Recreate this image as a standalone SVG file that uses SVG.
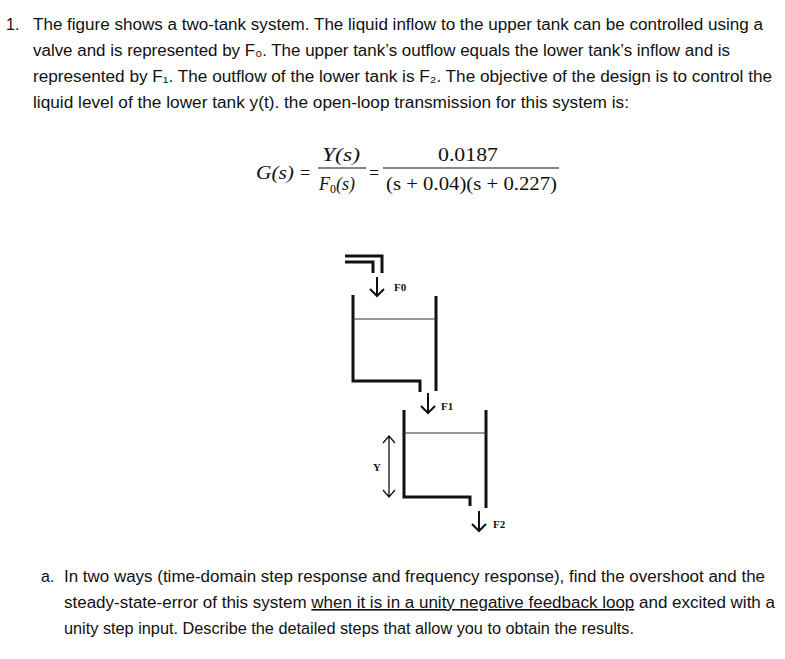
<svg xmlns="http://www.w3.org/2000/svg" width="785" height="659" viewBox="0 0 785 659">
<defs>
<style>
.t{font-family:"Liberation Sans",Arial,sans-serif;font-size:16px;fill:#111}
.m{font-family:"Liberation Serif","Times New Roman",serif;font-size:18px;fill:#111}
.l{font-family:"Liberation Serif","Times New Roman",serif;font-size:11px;font-weight:bold;fill:#111}
.w{fill:none;stroke:#111;stroke-width:3}
.thin{fill:none;stroke:#333;stroke-width:1}
.a{fill:none;stroke:#111;stroke-width:2}
</style>
</defs>
<rect width="785" height="659" fill="#fff"/>
<g id="text">
<text class="t" x="6" y="30">1.</text>
<text class="t" x="33" y="30" textLength="730" lengthAdjust="spacingAndGlyphs">The figure shows a two-tank system. The liquid inflow to the upper tank can be controlled using a</text>
<text class="t" x="33" y="56" textLength="697" lengthAdjust="spacingAndGlyphs">valve and is represented by F₀. The upper tank’s outflow equals the lower tank’s inflow and is</text>
<text class="t" x="33" y="82" textLength="739" lengthAdjust="spacingAndGlyphs">represented by F₁. The outflow of the lower tank is F₂. The objective of the design is to control the</text>
<text class="t" x="33" y="108" textLength="596" lengthAdjust="spacingAndGlyphs">liquid level of the lower tank y(t). the open-loop transmission for this system is:</text>
<text class="t" x="41" y="582">a.</text>
<text class="t" x="64" y="582" textLength="701" lengthAdjust="spacingAndGlyphs">In two ways (time-domain step response and frequency response), find the overshoot and the</text>
<text class="t" x="64" y="608" textLength="711" lengthAdjust="spacingAndGlyphs">steady-state-error of this system <tspan text-decoration="underline">when it is in a unity negative feedback loop</tspan> and excited with a</text>
<text class="t" x="64" y="634" textLength="570" lengthAdjust="spacingAndGlyphs">unity step input. Describe the detailed steps that allow you to obtain the results.</text>
</g>
<g id="equation">
<text class="m" x="256" y="179" font-style="italic" textLength="38" lengthAdjust="spacingAndGlyphs">G(s)</text>
<text class="m" x="300" y="179">=</text>
<text class="m" x="322" y="161" font-style="italic" textLength="38" lengthAdjust="spacingAndGlyphs">Y(s)</text>
<text class="m" x="319" y="190" font-style="italic">F<tspan font-size="12" dy="3" font-style="normal">0</tspan><tspan dy="-3">(s)</tspan></text>
<line x1="318" y1="168" x2="366" y2="168" stroke="#111" stroke-width="1.2"/>
<text class="m" x="369" y="179">=</text>
<text class="m" x="468" y="161" text-anchor="middle" textLength="60" lengthAdjust="spacingAndGlyphs">0.0187</text>
<text class="m" x="386" y="190" textLength="171" lengthAdjust="spacingAndGlyphs">(s + 0.04)(s + 0.227)</text>
<line x1="383" y1="168" x2="559" y2="168" stroke="#111" stroke-width="1.2"/>
</g>
<g id="tanks">
<path class="w" d="M345 256 H382 V273" stroke-width="2.5"/>
<path class="w" d="M345 262 H373 V273" stroke-width="2.5"/>
<path class="w" d="M353 295 V381 H420 V392"/>
<line class="w" x1="436" y1="296" x2="436" y2="391"/>
<line class="thin" x1="353" y1="319" x2="436" y2="319"/>
<path class="w" d="M404 410 V497 H470 V506"/>
<line class="w" x1="486" y1="410" x2="486" y2="508"/>
<line class="thin" x1="404" y1="433" x2="486" y2="433"/>
</g>
<g id="connectors">
<path class="a" d="M377 277 V296 M370 289 L377 296 L384 289"/>
<path class="a" d="M428 393 V413 M421 406 L428 413 L435 406"/>
<path class="a" d="M479 511 V531 M472 524 L479 531 L486 524"/>
<path d="M389 436 V497 M383 443 L389 436 L395 443 M383 490 L389 497 L395 490" fill="none" stroke="#111" stroke-width="1.3"/>
</g>
<g id="labels">
<text class="l" x="394" y="291">F0</text>
<text class="l" x="441" y="410">F1</text>
<text class="l" x="373" y="471">Y</text>
<text class="l" x="493" y="528">F2</text>
</g>
</svg>
